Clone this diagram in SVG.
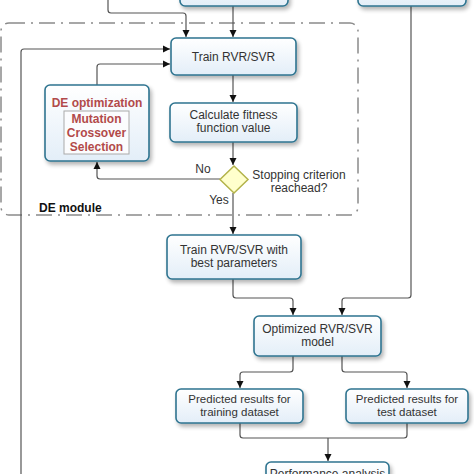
<svg xmlns="http://www.w3.org/2000/svg" width="474" height="474" viewBox="0 0 474 474">
<defs>
<linearGradient id="g" x1="0" y1="0" x2="0" y2="1">
<stop offset="0" stop-color="#ffffff"/>
<stop offset="1" stop-color="#e3eef8"/>
</linearGradient>
<filter id="sh" x="-10%" y="-10%" width="130%" height="140%">
<feGaussianBlur in="SourceAlpha" stdDeviation="2"/>
<feOffset dx="2" dy="3" result="b"/>
<feComponentTransfer><feFuncA type="linear" slope="0.3"/></feComponentTransfer>
<feMerge><feMergeNode/><feMergeNode in="SourceGraphic"/></feMerge>
</filter>
<marker id="ah" markerWidth="8" markerHeight="8" refX="7" refY="4" orient="auto" markerUnits="userSpaceOnUse">
<path d="M0,0.5 L7,4 L0,7.5 Z" fill="#111"/>
</marker>
</defs>
<style>
.box{fill:url(#g);stroke:#2f7490;stroke-width:1.6;filter:url(#sh)}
.t{font-family:"Liberation Sans",Arial,sans-serif;font-size:12px;fill:#333;text-anchor:middle}
.s{font-size:11.5px}
.de{font-family:"Liberation Sans",Arial,sans-serif;font-size:12px;font-weight:bold;fill:#b24a4a;text-anchor:middle}
.c{fill:none;stroke:#555;stroke-width:1.2}
.ca{fill:none;stroke:#555;stroke-width:1.2;marker-end:url(#ah)}
</style>
<rect width="474" height="474" fill="#ffffff"/>

<g id="de-module">
<rect x="1" y="23" width="357" height="192" rx="8" fill="none" stroke="#8a8a8a" stroke-width="1.5" stroke-dasharray="16,6,2,6"/>
<text x="39" y="212" font-family="Liberation Sans,Arial,sans-serif" font-size="12" font-weight="bold" fill="#111">DE module</text>
</g>

<g id="connectors">
<path class="ca" d="M108,0 V10 Q108,13 111,13 H183 Q186,13 186,16 V37"/>
<path class="ca" d="M233,6 V37"/>
<path class="ca" d="M21,474 V52 Q21,49 24,49 H170"/>
<path class="ca" d="M97,85 V67 Q97,64 100,64 H170"/>
<path class="ca" d="M233,75 V102"/>
<path class="ca" d="M233,142 V165"/>
<path class="ca" d="M220,179 H100 Q97,179 97,176 V162"/>
<path class="ca" d="M233,193 V234"/>
<path class="ca" d="M233,279 V295 Q233,298 236,298 H290 Q293,298 293,301 V315"/>
<path class="ca" d="M411,6 V295 Q411,298 408,298 H345 Q342,298 342,301 V315"/>
<path class="ca" d="M293,356 V369 Q293,372 290,372 H243 Q240,372 240,375 V388"/>
<path class="ca" d="M342,356 V369 Q342,372 345,372 H404 Q407,372 407,375 V388"/>
<path class="c" d="M240,423 V435 Q240,438 243,438 H404 Q407,438 407,435 V423"/>
<path class="ca" d="M328,438 V461"/>
<text x="203" y="173" class="t">No</text>
<text x="219" y="204" class="t">Yes</text>
</g>

<g id="top-left"><rect class="box" x="180" y="-30" width="108" height="36" rx="5"/></g>
<g id="top-right"><rect class="box" x="358" y="-30" width="108" height="36" rx="5"/></g>

<g id="train">
<rect class="box" x="171" y="38" width="125" height="37" rx="5"/>
<text x="233.5" y="61" class="t">Train RVR/SVR</text>
</g>

<g id="de-opt">
<rect class="box" x="45" y="85" width="104" height="76" rx="5"/>
<text x="97" y="107" class="de">DE optimization</text>
<rect x="64" y="111" width="65" height="43" fill="#fbfcfe" stroke="#aaaaaa" stroke-width="1"/>
<text x="96.5" y="123" class="de">Mutation</text>
<text x="96.5" y="137" class="de">Crossover</text>
<text x="96.5" y="151" class="de">Selection</text>
</g>

<g id="fitness">
<rect class="box" x="170" y="103" width="127" height="39" rx="5"/>
<text x="233.5" y="119" class="t">Calculate fitness</text>
<text x="233.5" y="132" class="t">function value</text>
</g>

<g id="decision">
<path d="M234,166 L248,179.5 L234,193 L220,179.5 Z" fill="#ffffcc" stroke="#b3b34a" stroke-width="1.5"/>
<text x="299" y="179" class="t">Stopping criterion</text>
<text x="299" y="192" class="t">reachead?</text>
</g>

<g id="train-best">
<rect class="box" x="167" y="235" width="134" height="44" rx="5"/>
<text x="234" y="254" class="t">Train RVR/SVR with</text>
<text x="234" y="267" class="t">best parameters</text>
</g>

<g id="optimized">
<rect class="box" x="254" y="316" width="127" height="40" rx="5"/>
<text x="317.5" y="333" class="t">Optimized RVR/SVR</text>
<text x="317.5" y="346" class="t">model</text>
</g>

<g id="pred-train">
<rect class="box" x="176" y="389" width="127" height="34" rx="5"/>
<text x="239.5" y="403" class="t s">Predicted results for</text>
<text x="239.5" y="416" class="t s">training dataset</text>
</g>

<g id="pred-test">
<rect class="box" x="346" y="389" width="122" height="34" rx="5"/>
<text x="407" y="403" class="t s">Predicted results for</text>
<text x="407" y="416" class="t s">test dataset</text>
</g>

<g id="performance">
<rect class="box" x="266" y="462" width="123" height="40" rx="5"/>
<text x="327.5" y="478" class="t">Performance analysis</text>
</g>
</svg>
